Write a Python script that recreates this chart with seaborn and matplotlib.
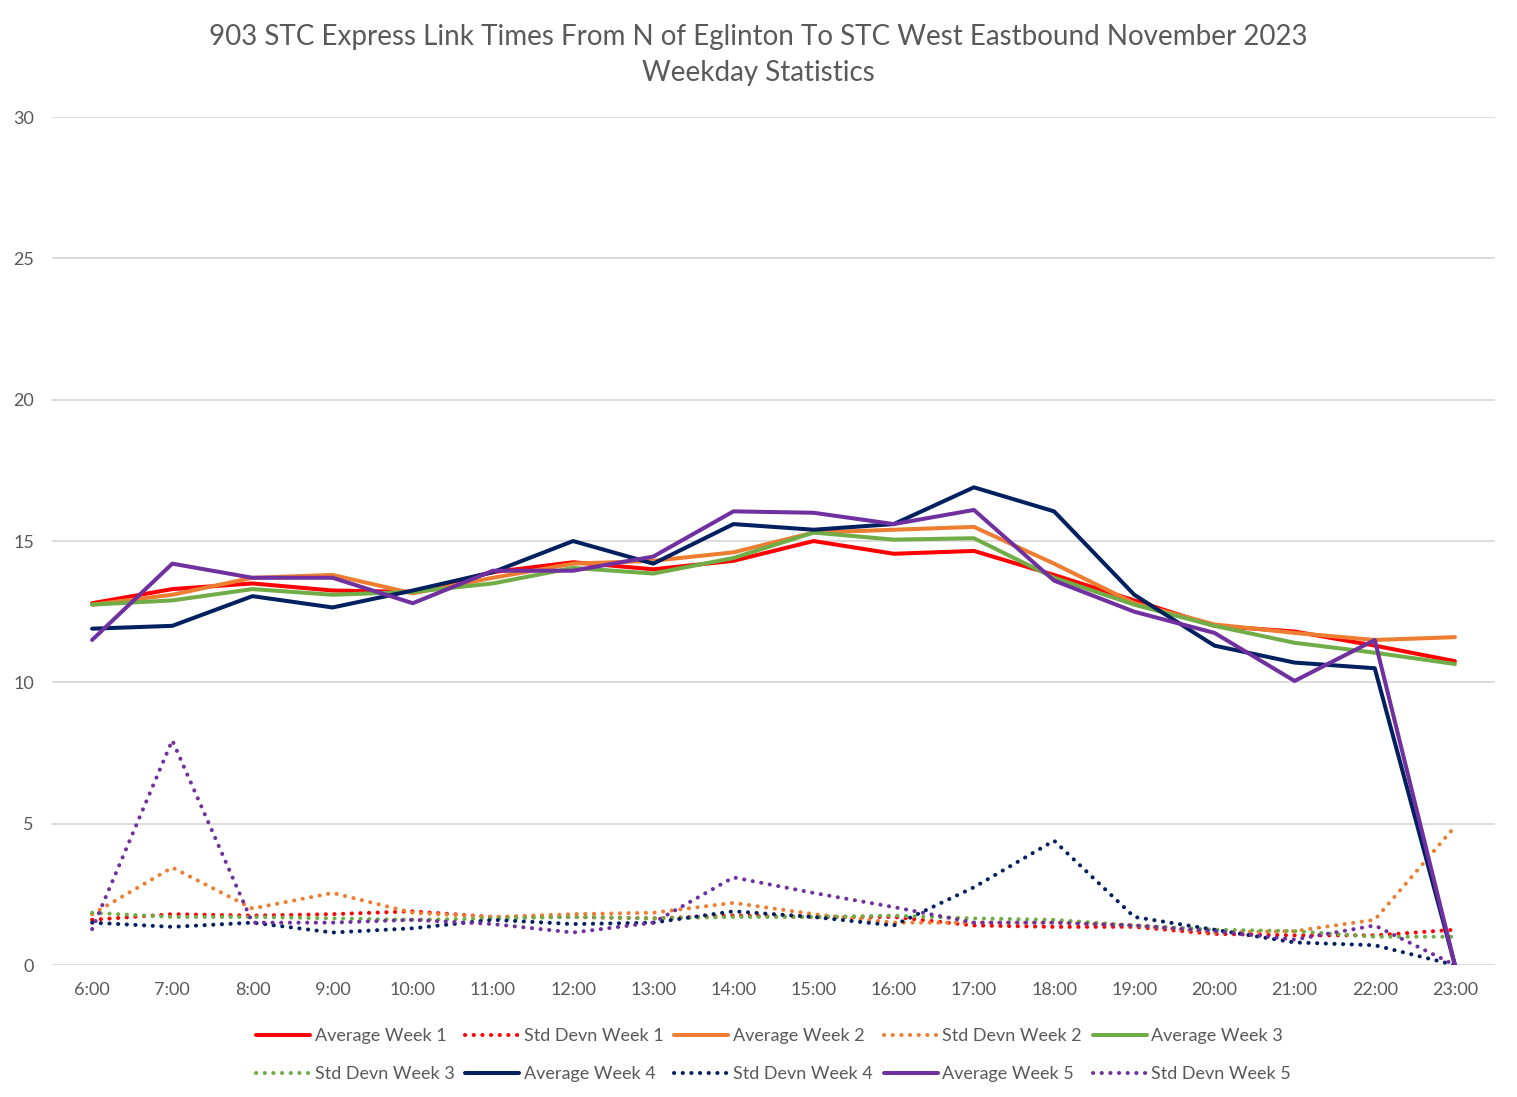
import pandas as pd
import matplotlib
matplotlib.use('Agg')
import matplotlib.pyplot as plt
import seaborn as sns

hours = ['6:00', '7:00', '8:00', '9:00', '10:00', '11:00', '12:00', '13:00', '14:00',
         '15:00', '16:00', '17:00', '18:00', '19:00', '20:00', '21:00', '22:00', '23:00']

avg_week1 = [12.8, 13.3, 13.5, 13.25, 13.2, 13.9, 14.25, 14.0, 14.3, 15.0, 14.55, 14.65, 13.8, 12.9, 12.0, 11.8, 11.3, 10.75]
std_week1 = [1.6, 1.8, 1.75, 1.8, 1.9, 1.7, 1.7, 1.65, 1.75, 1.7, 1.7, 1.4, 1.35, 1.35, 1.1, 1.05, 1.05, 1.25]
avg_week2 = [12.75, 13.1, 13.7, 13.8, 13.15, 13.7, 14.2, 14.3, 14.6, 15.3, 15.4, 15.5, 14.2, 12.8, 12.05, 11.75, 11.5, 11.6]
std_week2 = [1.8, 3.45, 2.0, 2.55, 1.85, 1.7, 1.8, 1.85, 2.2, 1.8, 1.5, 1.5, 1.5, 1.4, 1.15, 1.2, 1.6, 4.9]
avg_week3 = [12.75, 12.9, 13.3, 13.1, 13.2, 13.5, 14.05, 13.85, 14.4, 15.3, 15.05, 15.1, 13.7, 12.75, 12.0, 11.4, 11.05, 10.65]
std_week3 = [1.85, 1.7, 1.7, 1.65, 1.6, 1.65, 1.7, 1.65, 1.7, 1.7, 1.75, 1.65, 1.6, 1.4, 1.25, 1.2, 1.0, 1.0]
avg_week4 = [11.9, 12.0, 13.05, 12.65, 13.25, 13.9, 15.0, 14.2, 15.6, 15.4, 15.6, 16.9, 16.05, 13.1, 11.3, 10.7, 10.5, 0.0]
std_week4 = [1.5, 1.35, 1.5, 1.15, 1.3, 1.6, 1.45, 1.5, 1.9, 1.7, 1.4, 2.75, 4.4, 1.7, 1.25, 0.8, 0.7, 0.0]
avg_week5 = [11.5, 14.2, 13.7, 13.7, 12.8, 13.95, 13.95, 14.45, 16.05, 16.0, 15.6, 16.1, 13.6, 12.5, 11.75, 10.05, 11.5, 0.0]
std_week5 = [1.27, 7.95, 1.5, 1.5, 1.6, 1.45, 1.15, 1.5, 3.1, 2.55, 2.05, 1.5, 1.5, 1.4, 1.2, 0.9, 1.4, 0.0]

series = [
    ('Average Week 1', avg_week1, '#FF0000', 'solid'),
    ('Std Devn Week 1', std_week1, '#FF0000', 'dot'),
    ('Average Week 2', avg_week2, '#ED7D31', 'solid'),
    ('Std Devn Week 2', std_week2, '#ED7D31', 'dot'),
    ('Average Week 3', avg_week3, '#70AD47', 'solid'),
    ('Std Devn Week 3', std_week3, '#70AD47', 'dot'),
    ('Average Week 4', avg_week4, '#002060', 'solid'),
    ('Std Devn Week 4', std_week4, '#002060', 'dot'),
    ('Average Week 5', avg_week5, '#7030A0', 'solid'),
    ('Std Devn Week 5', std_week5, '#7030A0', 'dot'),
]

sns.set_theme(style='white')
plt.rcParams['font.family'] = ['Lato', 'DejaVu Sans']

fig = plt.figure(figsize=(15.17, 10.97), dpi=100)
ax = fig.add_axes([0.0343, 0.1203, 0.9512, 0.773])

pos = list(range(len(hours)))
for name, vals, col, style in series:
    df = pd.DataFrame({'pos': pos, 'val': vals})
    if style == 'solid':
        sns.lineplot(data=df, x='pos', y='val', color=col, linewidth=2.9,
                     label=name, ax=ax, solid_capstyle='round')
    else:
        sns.lineplot(data=df, x='pos', y='val', color=col, linewidth=2.9,
                     label=name, ax=ax, linestyle=(0, (0.05, 2.1)),
                     dash_capstyle='round')

ax.set_xlim(-0.5, 17.5)
ax.set_ylim(0, 30)
ax.set_yticks(range(0, 31, 5))
ax.set_xticks(pos)
ax.set_xticklabels(hours)
ax.set_xlabel('')
ax.set_ylabel('')
ax.grid(axis='y', color='#D9D9D9', linewidth=1.3)
ax.set_axisbelow(True)
for s in ax.spines.values():
    s.set_visible(False)
ax.tick_params(axis='x', length=0, labelsize=13, colors='#595959', pad=12)
ax.tick_params(axis='y', length=0, labelsize=13, colors='#595959', pad=13)

fig.suptitle('903 STC Express Link Times From N of Eglinton To STC West Eastbound November 2023\nWeekday Statistics',
             y=0.978, fontsize=20, color='#595959', linespacing=1.45)

# legend rows in series order (matplotlib fills columns first)
handles, labels = ax.get_legend_handles_labels()
order = [0, 5, 1, 6, 2, 7, 3, 8, 4, 9]
ax.legend([handles[i] for i in order], [labels[i] for i in order],
          loc='upper center', bbox_to_anchor=(0.5, -0.055), ncol=5, frameon=False,
          fontsize=13, labelcolor='#595959', handlelength=3.0, handletextpad=0.25,
          columnspacing=0.6, labelspacing=1.25)

fig.savefig('out.png', dpi=100)
